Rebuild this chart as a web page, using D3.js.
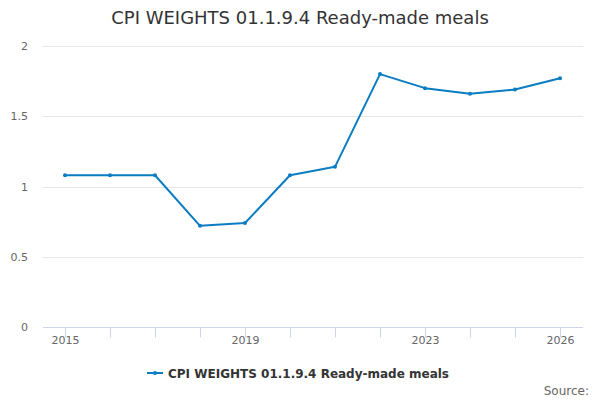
<!DOCTYPE html>
<html>
<head>
<meta charset="utf-8">
<script src="https://cdn.jsdelivr.net/npm/d3@7"></script>
<style>
  body { margin: 0; background: #fff; }
  svg { font-family: "DejaVu Sans", sans-serif; }
</style>
</head>
<body>
<svg width="600" height="400"></svg>
<script>
const years = [2015, 2016, 2017, 2018, 2019, 2020, 2021, 2022, 2023, 2024, 2025, 2026];
const weights = [1.08, 1.08, 1.08, 0.72, 0.74, 1.08, 1.14, 1.80, 1.70, 1.66, 1.69, 1.77];
const yTicks = [0, 0.5, 1, 1.5, 2];
const xLabels = [2015, 2019, 2023, 2026];
const seriesName = "CPI WEIGHTS 01.1.9.4 Ready-made meals";

const svg = d3.select("svg");
const plotLeft = 43, plotRight = 583, plotTop = 46, plotBottom = 327;
const colour = "#0a7cc2";

const x = d3.scaleLinear().domain([2015, 2026]).range([65, 560]);
const y = d3.scaleLinear().domain([0, 2]).range([plotBottom, plotTop]);

// title
svg.append("text")
  .attr("x", 300).attr("y", 24)
  .attr("text-anchor", "middle")
  .attr("font-size", 18)
  .attr("fill", "#333")
  .text(seriesName);

// grid
svg.append("g")
  .selectAll("line")
  .data(yTicks.filter(d => d > 0))
  .enter().append("line")
  .attr("x1", plotLeft).attr("x2", plotRight)
  .attr("y1", d => Math.round(y(d)) + 0.5)
  .attr("y2", d => Math.round(y(d)) + 0.5)
  .attr("stroke", "#e6e6e6");

// y labels
svg.append("g")
  .selectAll("text")
  .data(yTicks)
  .enter().append("text")
  .attr("x", 28)
  .attr("y", d => y(d) + 4)
  .attr("text-anchor", "end")
  .attr("font-size", 11)
  .attr("fill", "#666")
  .text(d => d);

// x axis
const xAxis = svg.append("g")
  .attr("transform", `translate(0,${Math.round(plotBottom) + 0.5})`)
  .call(d3.axisBottom(x)
    .tickValues(years)
    .tickSize(10)
    .tickFormat(d => xLabels.includes(d) ? d : ""));
xAxis.select(".domain").attr("d", `M${plotLeft},0H${plotRight}`).attr("stroke", "#ccd6eb");
xAxis.selectAll(".tick line").attr("stroke", "#ccd6eb");
xAxis.selectAll(".tick text")
  .attr("font-size", 11)
  .attr("fill", "#666")
  .attr("font-family", "DejaVu Sans, sans-serif")
  .attr("dy", "0.35em");

// line
const line = d3.line()
  .x((d, i) => x(years[i]))
  .y(d => y(d));

svg.append("path")
  .datum(weights)
  .attr("d", line)
  .attr("fill", "none")
  .attr("stroke", colour)
  .attr("stroke-width", 2)
  .attr("stroke-linejoin", "round")
  .attr("stroke-linecap", "round");

svg.append("g")
  .selectAll("circle")
  .data(weights)
  .enter().append("circle")
  .attr("cx", (d, i) => x(years[i]))
  .attr("cy", d => y(d))
  .attr("r", 2)
  .attr("fill", colour);

// legend
const legend = svg.append("g").attr("transform", "translate(147,373)");
legend.append("line")
  .attr("x1", 0).attr("x2", 16)
  .attr("stroke", colour).attr("stroke-width", 2);
legend.append("circle").attr("cx", 8).attr("r", 2).attr("fill", colour);
legend.append("text")
  .attr("x", 21).attr("y", 4.5)
  .attr("font-size", 12)
  .attr("font-weight", "bold")
  .attr("fill", "#333")
  .text(seriesName);

// credits
svg.append("text")
  .attr("x", 589).attr("y", 395)
  .attr("text-anchor", "end")
  .attr("font-size", 12)
  .attr("fill", "#666")
  .text("Source:");
</script>
</body>
</html>
